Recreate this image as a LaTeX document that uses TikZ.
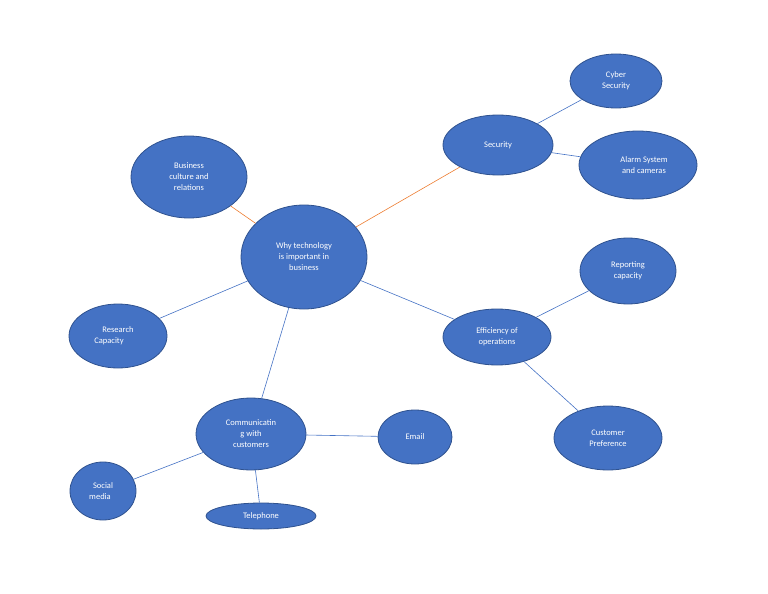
\documentclass[tikz,border=0pt]{standalone}
\usepackage{fontspec}
\setmainfont{Carlito}
\usetikzlibrary{shapes.geometric}
\definecolor{bfill}{HTML}{4472C4}
\definecolor{bdraw}{HTML}{2F528F}
\definecolor{org}{HTML}{ED7D31}
\tikzset{
  bub/.style={ellipse,fill=bfill,draw=bdraw,line width=0.8pt,text=white,font=\fontsize{8.5}{11}\selectfont,align=center,inner sep=0pt},
  bl/.style={draw=bfill,line width=0.6pt},
  ol/.style={draw=org,line width=0.6pt}
}
\begin{document}
\begin{tikzpicture}[x=1pt,y=-1pt]
\useasboundingbox (0,0) rectangle (768,594);
\node[bub,minimum width=126,minimum height=104] (c) at (304,257) {Why technology\\is important in\\business};
\node[bub,minimum width=116,minimum height=82] (bc) at (189,177) {Business\\culture and\\relations};
\node[bub,minimum width=110,minimum height=60] (sec) at (498,145) {Security};
\node[bub,minimum width=92,minimum height=54] (cy) at (616,81) {Cyber\\Security};
\node[bub,minimum width=118,minimum height=68] (al) at (638,165) {\hspace*{12pt}Alarm System\\\hspace*{12pt}and cameras};
\node[bub,minimum width=96,minimum height=66] (rep) at (628,271) {Reporting\\capacity};
\node[bub,minimum width=108,minimum height=56] (eff) at (497,337) {Efficiency of\\operations};
\node[bub,minimum width=108,minimum height=64] (cp) at (608,438) {Customer\\Preference};
\node[bub,minimum width=98,minimum height=64] (rc) at (118,336) {Research\\Capacity\hspace*{18pt}};
\node[bub,minimum width=110,minimum height=72] (com) at (251,434) {Communicatin\\g with\\customers};
\node[bub,minimum width=74,minimum height=54] (em) at (415,437) {Email};
\node[bub,minimum width=66,minimum height=58] (sm) at (103,491) {Social\\media\hspace*{6pt}};
\node[bub,minimum width=110,minimum height=26] (tel) at (261,516) {Telephone};
\draw[ol] (c) -- (bc);
\draw[ol] (c) -- (sec);
\draw[bl] (sec) -- (cy);
\draw[bl] (sec) -- (al);
\draw[bl] (c) -- (eff);
\draw[bl] (eff) -- (rep);
\draw[bl] (eff) -- (cp);
\draw[bl] (c) -- (rc);
\draw[bl] (c) -- (com);
\draw[bl] (com) -- (em);
\draw[bl] (com) -- (sm);
\draw[bl] (com) -- (tel);
\end{tikzpicture}
\end{document}
